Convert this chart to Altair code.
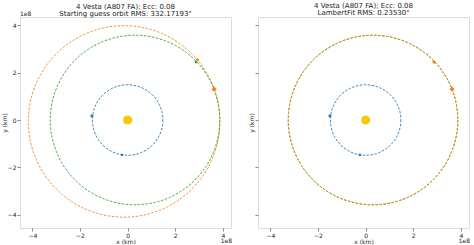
import altair as alt
import pandas as pd

# Orbits (approximated as circles), units of 1e8 km
orbit_names_left = ["Earth", "Guess", "Vesta"]
orbit_cx_left = [0.0, -0.15, 0.31]
orbit_cy_left = [0.0, -0.06, 0.0]
orbit_r_left = [1.48, 4.02, 3.56]
orbit_colors_left = ["#1f77b4", "#ff7f0e", "#2ca02c"]

orbit_names_right = ["Earth", "Vesta", "Fit"]
orbit_cx_right = [0.0, 0.31, 0.31]
orbit_cy_right = [0.0, 0.0, 0.0]
orbit_r_right = [1.48, 3.56, 3.56]
orbit_colors_right = ["#1f77b4", "#2ca02c", "#ff7f0e"]

# Markers
mk_x_left = [-1.5, -0.24, 2.87, 3.63, 2.94, 3.63]
mk_y_left = [0.17, -1.47, 2.44, 1.30, 2.54, 1.30]
mk_col_left = ["#1f77b4", "#1f77b4", "#2ca02c", "#2ca02c", "#ff7f0e", "#ff7f0e"]
mk_size_left = [14, 10, 10, 10, 12, 26]

mk_x_right = [-1.5, -0.24, 2.87, 3.63, 2.87, 3.63]
mk_y_right = [0.17, -1.47, 2.44, 1.30, 2.44, 1.30]
mk_col_right = ["#1f77b4", "#1f77b4", "#2ca02c", "#2ca02c", "#ff7f0e", "#ff7f0e"]
mk_size_right = [14, 10, 10, 10, 12, 26]

sun_x = [0.0]
sun_y = [0.0]

tick_vals = [-4, -3, -2, -1, 0, 1, 2, 3, 4]
x_dom = [-4.52, 4.34]
y_dom = [-4.55, 4.34]

W = 211
H = 211
px_per_unit = W / (x_dom[1] - x_dom[0])

FONT = "DejaVu Sans"


def panel(names, cx, cy, r, cols, mx, my, mc, ms, title2, show_ylabels):
    orb = pd.DataFrame({"name": names, "cx": cx, "cy": cy, "r": r, "col": cols})
    mk = pd.DataFrame({"x": mx, "y": my, "col": mc, "s": ms})
    sun = pd.DataFrame({"x": sun_x, "y": sun_y})

    xs = alt.Scale(domain=x_dom, nice=False, zero=False)
    ys = alt.Scale(domain=y_dom, nice=False, zero=False)
    xax = alt.Axis(values=tick_vals, format="d", title="x (km)", grid=False,
                   tickSize=3, labelFontSize=6, titleFontSize=6, titleFontWeight="normal",
                   labelPadding=1, titlePadding=0, domain=False, labelFont=FONT, titleFont=FONT,
                   labelColor="#222", titleColor="#222", labelOverlap=False, labelFlush=False)
    yax = alt.Axis(values=tick_vals, format="d", title="y (km)", grid=False,
                   tickSize=3, labelFontSize=6, titleFontSize=6, titleFontWeight="normal",
                   labels=show_ylabels, labelPadding=1, titlePadding=0,
                   domain=False, labelFont=FONT, titleFont=FONT,
                   labelColor="#222", titleColor="#222", labelOverlap=False, labelFlush=False)

    orbits = alt.Chart(orb).mark_point(shape="circle", filled=False, strokeWidth=0.9,
                                       strokeDash=[2.5, 1.5], opacity=1).encode(
        x=alt.X("cx:Q", scale=xs, axis=xax),
        y=alt.Y("cy:Q", scale=ys, axis=yax),
        size=alt.Size("r:Q", scale=alt.Scale(type="pow", exponent=2, domain=[0, 1],
                                             range=[0, 4 * px_per_unit ** 2], zero=True),
                      legend=None),
        stroke=alt.Stroke("col:N", scale=None),
    )
    sunm = alt.Chart(sun).mark_circle(size=85, color="#f9c80e", opacity=1).encode(
        x=alt.X("x:Q", scale=xs), y=alt.Y("y:Q", scale=ys))
    pts = alt.Chart(mk).mark_point(shape="diamond", filled=True, opacity=1).encode(
        x=alt.X("x:Q", scale=xs), y=alt.Y("y:Q", scale=ys),
        color=alt.Color("col:N", scale=None),
        size=alt.Size("s:Q", scale=None),
    )
    layers = [orbits, sunm, pts]
    exp = pd.DataFrame({"t": ["1e8"]})
    layers.append(alt.Chart(exp).mark_text(fontSize=6, font=FONT, color="#222", align="right").encode(
        x=alt.value(W + 1), y=alt.value(H + 13), text="t:N"))
    if show_ylabels:
        layers.append(alt.Chart(exp).mark_text(fontSize=6, font=FONT, color="#222", align="left").encode(
            x=alt.value(0), y=alt.value(-3), text="t:N"))
    return alt.layer(*layers).resolve_scale(size="independent").properties(
        width=W, height=H,
        title=alt.TitleParams(["4 Vesta (A807 FA); Ecc: 0.08", title2], fontSize=7,
                              font=FONT, fontWeight="normal", anchor="middle",
                              lineHeight=7, offset=-6 if show_ylabels else 1, color="#222"))


left = panel(orbit_names_left, orbit_cx_left, orbit_cy_left, orbit_r_left, orbit_colors_left,
             mk_x_left, mk_y_left, mk_col_left, mk_size_left,
             "Starting guess orbit RMS: 332.17193\"", True)
right = panel(orbit_names_right, orbit_cx_right, orbit_cy_right, orbit_r_right, orbit_colors_right,
              mk_x_right, mk_y_right, mk_col_right, mk_size_right,
              "LambertFit RMS: 0.23530\"", False)

chart = alt.hconcat(left, right, spacing=27, bounds="flush").properties(
    padding={"left": 0, "top": 1, "right": 0, "bottom": 0},
).configure_view(stroke="#333", strokeWidth=0.8).configure(background="white")

chart.save("out.html", embed_options={"renderer": "svg", "actions": False})
